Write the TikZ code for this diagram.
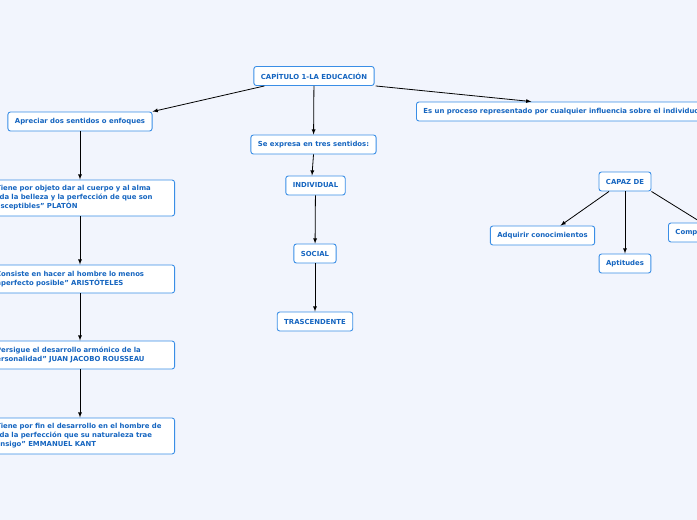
\documentclass[tikz,border=0pt]{standalone}
\usepackage{fontspec}
\setmainfont{DejaVu Sans}
\begin{document}
\begin{tikzpicture}[x=1pt,y=-1pt,
  box/.style={draw=boxblue,fill=white,rounded corners=2.5pt,line width=0.9pt,text=txtblue,font=\bfseries\fontsize{6.9}{9}\selectfont,inner xsep=7pt,inner ysep=0pt,minimum height=19pt},
  wbox/.style={box,align=left,text width=176pt,minimum height=36pt},
  arr/.style={-latex,line width=0.8pt,black}]
\definecolor{boxblue}{HTML}{3A8EE6}
\definecolor{txtblue}{HTML}{1565C0}
\fill[fill={rgb,255:red,242;green,245;blue,253}] (0,0) rectangle (697,520);
\useasboundingbox (0,0) rectangle (697,520);
\clip (0,0) rectangle (697,520);
\node[box] (root) at (314,76) {CAPÍTULO 1-LA EDUCACIÓN};
\node[box] (apr) at (80,121.5) {Apreciar dos sentidos o enfoques};
\node[box] (se) at (313.5,144.5) {Se expresa en tres sentidos:};
\node[box,anchor=west] (es) at (416,111.5) {Es un proceso representado por cualquier influencia sobre el individuo};
\node[wbox,anchor=east] (t1) at (175,198) {"Tiene por objeto dar al cuerpo y al alma\\toda la belleza y la perfección de que son\\susceptibles" PLATÓN};
\node[wbox,anchor=east,minimum height=28pt] (t2) at (175,279) {"Consiste en hacer al hombre lo menos\\imperfecto posible" ARISTÓTELES};
\node[wbox,anchor=east,minimum height=28pt] (t3) at (175,355) {"Persigue el desarrollo armónico de la\\personalidad" JUAN JACOBO ROUSSEAU};
\node[wbox,anchor=east] (t4) at (175,436) {"Tiene por fin el desarrollo en el hombre de\\toda la perfección que su naturaleza trae\\consigo" EMMANUEL KANT};
\node[box] (ind) at (315.5,185.5) {INDIVIDUAL};
\node[box] (soc) at (315,253.5) {SOCIAL};
\node[box] (tra) at (315,321.5) {TRASCENDENTE};
\node[box] (cap) at (625,181.5) {CAPAZ DE};
\node[box] (adq) at (542.5,235.5) {Adquirir conocimientos};
\node[box] (apt) at (625,263.5) {Aptitudes};
\node[box,anchor=west] (com) at (668,232.5) {Competencias};
\draw[arr] ([xshift=11pt]root.south west) -- (apr.north east);
\draw[arr] ([xshift=1pt]root.south east) -- ([xshift=-30pt]es.north);
\draw[arr] (root) -- (se);
\draw[arr] (se.south) -- (ind.north -| 312,0);
\draw[arr] (apr) -- (t1.north -| apr);
\draw[arr] (t1.south -| apr) -- (t2.north -| apr);
\draw[arr] (t2.south -| apr) -- (t3.north -| apr);
\draw[arr] (t3.south -| apr) -- (t4.north -| apr);
\draw[arr] (ind) -- (soc);
\draw[arr] (soc) -- (tra);
\draw[arr] ([xshift=-16pt]cap.south) -- ([xshift=18pt]adq.north);
\draw[arr] (cap) -- (apt);
\draw[arr] (cap.south east) -- ([xshift=40pt,yshift=-4pt]com.north west);
\end{tikzpicture}
\end{document}
